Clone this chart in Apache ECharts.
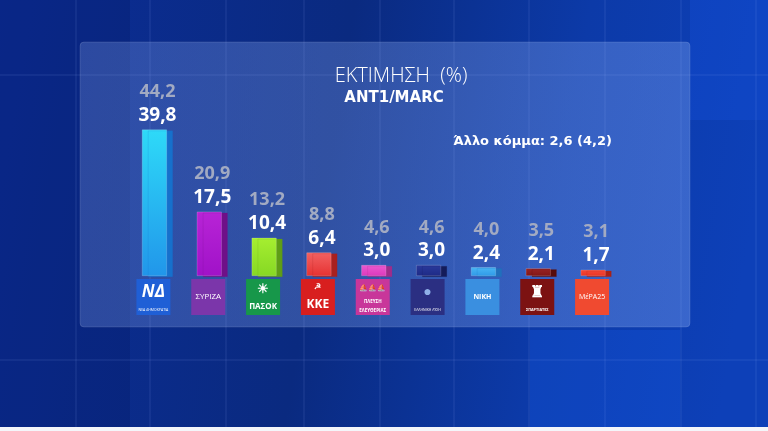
<!DOCTYPE html>
<html>
<head>
<meta charset="utf-8">
<script src="https://cdn.jsdelivr.net/npm/echarts@6/dist/echarts.min.js"></script>
<style>html,body{margin:0;padding:0;background:#0b2b8c;}#c{width:768px;height:431px;}</style>
</head>
<body>
<div id="c"></div>
<script>
// ---- data ----
var parties = ['ΝΔ', 'ΣΥΡΙΖΑ', 'ΠΑΣΟΚ', 'ΚΚΕ', 'Πλεύση Ελευθερίας', 'Ελληνική Λύση', 'ΝΙΚΗ', 'Σπαρτιάτες', 'ΜέΡΑ25'];
var current = [39.8, 17.5, 10.4, 6.4, 3.0, 3.0, 2.4, 2.1, 1.7];
var previous = [44.2, 20.9, 13.2, 8.8, 4.6, 4.6, 4.0, 3.5, 3.1];
var otherCurrent = 2.6;
var otherPrev = 4.2;
var titleText = 'ΕΚΤΙΜΗΣΗ  (%)';
var subtitleText = 'ANT1/MARC';

// ---- styles ----
var barTop = ['#2edaf8', '#b824d6', '#a6ee30', '#f26262', '#ec5ad0', '#2a3a9c', '#4ab6f4', '#9a2424', '#f44a3a'];
var barBottom = ['#2196ea', '#a012c8', '#86d824', '#e63232', '#dc38bc', '#1e2a86', '#2f9ae8', '#821616', '#ec3424'];
var sideColors = ['#1670cc', '#6e1088', '#5f9d16', '#a82020', '#a02c8a', '#141c5a', '#2070bc', '#560c0c', '#aa2216'];
var logoColors = ['#1f5fd6', '#7b36aa', '#17974a', '#d81f1f', '#c8369a', '#2b2f82', '#3a8fe0', '#7c1212', '#f04a30'];
var logoText = [
  '{l0a|ΝΔ}\n{l0b|ΝΕΑ ΔΗΜΟΚΡΑΤΙΑ}',
  '{l1|ΣΥΡΙΖΑ}',
  '{l2a|☀}\n{l2b|ΠΑΣΟΚ}',
  '{l3a|☭}\n{l3b|ΚΚΕ}',
  '{l4a|⛵⛵⛵}\n{l4b|ΠΛΕΥΣΗ}\n{l4c|ΕΛΕΥΘΕΡΙΑΣ}',
  '{l5a|●}\n{l5b|ΕΛΛΗΝΙΚΗ ΛΥΣΗ}',
  '{l6|ΝΙΚΗ}',
  '{l7a|♜}\n{l7b|ΣΠΑΡΤΙΑΤΕΣ}',
  '{l8|ΜέΡΑ25}'
];
function fmt(v) { return v.toFixed(1).replace('.', ','); }
var W = 34;
function box(bg, h, fs, extra) {
  var o = {backgroundColor: bg, width: W, height: h, lineHeight: h, align: 'center', verticalAlign: 'middle',
    color: '#ffffff', fontSize: fs, fontWeight: 'bold', fontFamily: 'Open Sans'};
  for (var k in extra) o[k] = extra[k];
  return o;
}
var rich = {
  l0a: box(logoColors[0], 26, 17, {fontStyle: 'italic', verticalAlign: 'bottom'}), l0b: box(logoColors[0], 10, 3.5, {fontWeight: 'normal'}),
  l1: box(logoColors[1], 36, 8, {fontWeight: 'normal'}),
  l2a: box(logoColors[2], 20, 13, {verticalAlign: 'bottom'}), l2b: box(logoColors[2], 16, 8, {verticalAlign: 'top'}),
  l3a: box(logoColors[3], 15, 8, {verticalAlign: 'bottom'}), l3b: box(logoColors[3], 21, 12, {verticalAlign: 'top'}),
  l4a: box(logoColors[4], 18, 7, {verticalAlign: 'bottom'}), l4b: box(logoColors[4], 9, 4.5), l4c: box(logoColors[4], 9, 4.5, {verticalAlign: 'top'}),
  l5a: box(logoColors[5], 26, 14, {color: '#8fb0e8', verticalAlign: 'bottom'}), l5b: box(logoColors[5], 10, 3.5, {fontWeight: 'normal'}),
  l6: box(logoColors[6], 36, 7),
  l7a: box(logoColors[7], 26, 16, {verticalAlign: 'bottom'}), l7b: box(logoColors[7], 10, 3.8),
  l8: box(logoColors[8], 36, 7, {fontWeight: 'normal'})
};

var barData = current.map(function (v, i) {
  return {
    value: v,
    itemStyle: {
      color: new echarts.graphic.LinearGradient(0, 0, 0, 1, [
        {offset: 0, color: barTop[i]}, {offset: 1, color: barBottom[i]}
      ]),
      borderColor: 'rgba(255,255,255,0.3)', borderWidth: 0.6,
      shadowColor: sideColors[i], shadowOffsetX: 6, shadowOffsetY: 1, shadowBlur: 0
    }
  };
});

var vlines = [];
[76, 150, 226, 304, 380, 454, 529, 605, 681, 756].forEach(function (x) {
  vlines.push({type: 'line', silent: true, z: -9, shape: {x1: x, y1: 0, x2: x, y2: 427}, style: {stroke: 'rgba(150,180,255,0.16)', lineWidth: 1}});
});
[75, 360].forEach(function (y) {
  vlines.push({type: 'line', silent: true, z: -9, shape: {x1: 0, y1: y, x2: 768, y2: y}, style: {stroke: 'rgba(150,180,255,0.16)', lineWidth: 1}});
});

var chart = echarts.init(document.getElementById('c'), null, {renderer: 'canvas'});
chart.setOption({
  animation: false,
  backgroundColor: 'transparent',
  graphic: [
    {type: 'rect', silent: true, z: -10, shape: {x: 0, y: 0, width: 768, height: 427},
      style: {fill: new echarts.graphic.LinearGradient(0, 0, 1, 0.3, [
        {offset: 0, color: '#0b2d96'}, {offset: 0.45, color: '#0a2a80'}, {offset: 0.75, color: '#0c3aa8'}, {offset: 1, color: '#0d40b8'}])}},
    {type: 'rect', silent: true, z: -10, shape: {x: 690, y: 0, width: 78, height: 120}, style: {fill: 'rgba(20,80,220,0.35)'}},
    {type: 'rect', silent: true, z: -10, shape: {x: 530, y: 330, width: 150, height: 97}, style: {fill: 'rgba(20,90,230,0.3)'}},
    {type: 'rect', silent: true, z: -10, shape: {x: 0, y: 0, width: 130, height: 427}, style: {fill: 'rgba(5,20,90,0.25)'}},
    {type: 'group', children: vlines},
    {type: 'rect', silent: true, z: -10, shape: {x: 0, y: 427, width: 768, height: 4}, style: {fill: '#f4f6fa'}},
    {type: 'rect', silent: true, z: -8, shape: {x: 80, y: 42, width: 610, height: 285, r: 4},
      style: {fill: new echarts.graphic.LinearGradient(0, 0, 1, 0, [
        {offset: 0, color: 'rgba(140,170,240,0.27)'}, {offset: 1, color: 'rgba(150,185,255,0.32)'}]),
        stroke: 'rgba(255,255,255,0.12)', lineWidth: 1}}
  ],
  title: [
    {text: titleText, left: 396, top: 61, textAlign: 'center',
      textStyle: {color: '#ffffff', fontSize: 20, fontWeight: 300, fontFamily: 'Open Sans'}},
    {text: subtitleText, left: 389, top: 86, textAlign: 'center',
      textStyle: {color: '#ffffff', fontSize: 15, fontWeight: 'bold', fontFamily: 'DejaVu Sans'}},
    {text: 'Άλλο κόμμα: ' + fmt(otherCurrent) + ' (' + fmt(otherPrev) + ')', left: 607, top: 130, textAlign: 'right',
      textStyle: {color: '#ffffff', fontSize: 13, fontWeight: 'bold', fontFamily: 'DejaVu Sans'}}
  ],
  grid: {left: 127, right: 147.5, top: 92, bottom: 155, containLabel: false},
  xAxis: {
    type: 'category', data: parties,
    axisLine: {show: false}, axisTick: {show: false}, splitLine: {show: false},
    axisLabel: {
      interval: 0, margin: 3, rich: rich, padding: [0, 2, 0, 0],
      formatter: function (val, idx) { return logoText[idx]; }
    }
  },
  yAxis: {type: 'value', min: 0, max: 50, show: false, splitLine: {show: false}},
  series: [{
    type: 'bar', data: barData, barWidth: 25,
    label: {
      show: true, position: 'top', distance: 2, offset: [3, 0],
      formatter: function (p) { return '{p|' + fmt(previous[p.dataIndex]) + '}\n{c|' + fmt(current[p.dataIndex]) + '}'; },
      rich: {
        p: {fontSize: 18, fontWeight: 'bold', color: '#a2aac2', lineHeight: 23, fontFamily: 'Open Sans'},
        c: {fontSize: 19, fontWeight: 'bold', color: '#ffffff', lineHeight: 24, fontFamily: 'Open Sans'}
      }
    }
  }]
});
</script>
</body>
</html>
